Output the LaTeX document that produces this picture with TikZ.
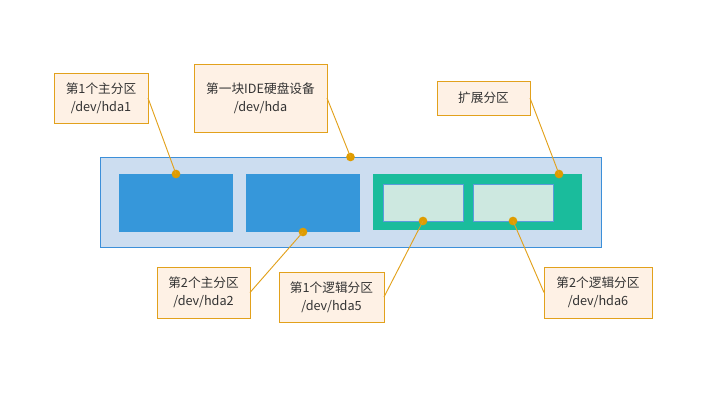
\documentclass[tikz,border=0pt]{standalone}
\usepackage{fontspec}
\setmainfont{Noto Sans CJK SC}
\usetikzlibrary{positioning}

\definecolor{diskfill}{HTML}{CCDDF0}
\definecolor{diskline}{HTML}{3C8FD9}
\definecolor{primfill}{HTML}{3697DA}
\definecolor{extfill}{HTML}{1ABC9C}
\definecolor{logfill}{HTML}{CDE8E0}
\definecolor{logline}{HTML}{5A9BDC}
\definecolor{notefill}{HTML}{FEF1E5}
\definecolor{noteline}{HTML}{E2A11C}
\definecolor{dotcol}{HTML}{DF9C00}
\definecolor{txt}{HTML}{333333}

\tikzset{
  part/.style = {inner sep = 0, outer sep = 0},
  note/.style = {part, draw = noteline, fill = notefill, line width = 0.75pt,
                 align = center, text = txt, font = \fontsize{9.5}{13.5}\selectfont},
  pin/.style = {circle, fill = dotcol, inner sep = 0, minimum size = 6.5pt},
  lead/.style = {noteline, line width = 0.7pt}
}

\begin{document}
\begin{tikzpicture}[x = 0.75pt, y = -0.75pt]
\useasboundingbox (0, 0) rectangle (726, 400);

\node[part, draw = diskline, fill = diskfill, line width = 0.75pt,
      minimum width = 375.75pt, minimum height = 67.5pt] (disk) at (350.5, 202) {};
\node[part, fill = primfill, minimum width = 85.5pt, minimum height = 43.5pt] (hda1) at (176, 203) {};
\node[part, fill = primfill, minimum width = 85.5pt, minimum height = 43.5pt] (hda2) at (303, 203) {};
\node[part, fill = extfill, minimum width = 156.75pt, minimum height = 42pt] (ext) at (477.5, 202) {};
\node[part, draw = logline, fill = logfill, line width = 0.6pt,
      minimum width = 60pt, minimum height = 27.75pt] (hda5) at (423, 202.5) {};
\node[part, draw = logline, fill = logfill, line width = 0.6pt,
      minimum width = 60pt, minimum height = 27.75pt] (hda6) at (513, 202.5) {};

\node[note, minimum width = 70.5pt, minimum height = 37.5pt] (n1) at (101, 98) {第1个主分区\\/dev/hda1};
\node[note, minimum width = 99.75pt, minimum height = 51pt] (nd) at (260.5, 98) {第一块IDE硬盘设备\\/dev/hda};
\node[note, minimum width = 69.75pt, minimum height = 25.5pt] (ne) at (483.5, 98) {扩展分区};
\node[note, minimum width = 69.75pt, minimum height = 38.25pt] (n2) at (203.5, 292.5) {第2个主分区\\/dev/hda2};
\node[note, minimum width = 78.75pt, minimum height = 37.5pt] (n5) at (331.5, 297) {第1个逻辑分区\\/dev/hda5};
\node[note, minimum width = 81pt, minimum height = 38.25pt] (n6) at (598, 292.5) {第2个逻辑分区\\/dev/hda6};

\node[pin] (p1) at (hda1.north) {};
\node[pin] (pd) at (disk.north) {};
\node[pin] (pe) at (559, 174) {};
\node[pin] (p2) at (hda2.south) {};
\node[pin] (p5) at (hda5.south) {};
\node[pin] (p6) at (hda6.south) {};

\draw[lead] (n1.east) -- (p1.center);
\draw[lead] (nd.east) -- (pd.center);
\draw[lead] (ne.east) -- (pe.center);
\draw[lead] (n2.east) -- (p2.center);
\draw[lead] (n5.east) -- (p5.center);
\draw[lead] (n6.west) -- (p6.center);
\end{tikzpicture}
\end{document}
